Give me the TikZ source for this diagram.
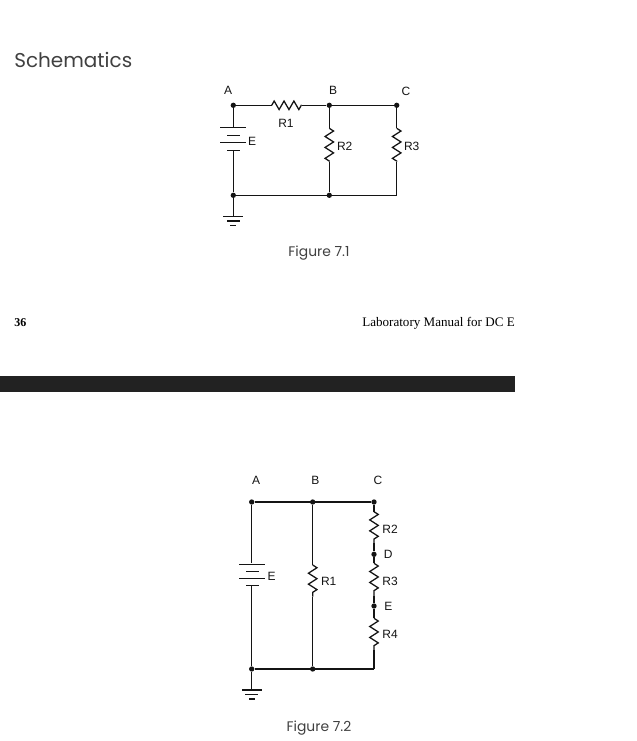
\documentclass[tikz,border=0pt]{standalone}
\usepackage{fontspec}
\setmainfont{Liberation Sans}
\newfontfamily\gothicfont{Poppins}
\newfontfamily\timesfont{Liberation Serif}
\usetikzlibrary{decorations.pathmorphing}
\definecolor{wirecol}{HTML}{141414}
\definecolor{barcol}{HTML}{222222}
\tikzset{
  dot/.style={circle,fill=wirecol,inner sep=0pt,minimum size=4pt},
  lab/.style={inner sep=0pt,font=\fontsize{9}{10}\selectfont,text=wirecol},
  figcap/.style={inner sep=0pt,font=\gothicfont\fontsize{10.4}{12}\selectfont,text=black!75},
  wire/.style={draw=wirecol,line width=.95pt},
  res/.style={wire,decorate,decoration={zigzag,amplitude=3.2pt,segment length=8.2pt}},
  resh/.style={wire,decorate,decoration={zigzag,amplitude=3.2pt,segment length=7.4pt}},
  longplate/.style={fill=wirecol,inner sep=0pt,minimum height=1pt,minimum width=19.5pt},
  shortplate/.style={fill=wirecol,inner sep=0pt,minimum height=1pt,minimum width=10pt},
  gnda/.style={fill=wirecol,inner sep=0pt,minimum height=1pt,minimum width=15pt},
  gndb/.style={fill=wirecol,inner sep=0pt,minimum height=1pt,minimum width=9.5pt},
  gndc/.style={fill=wirecol,inner sep=0pt,minimum height=1pt,minimum width=4.5pt}
}
\begin{document}
\begin{tikzpicture}[x=.75pt,y=-.75pt]
\useasboundingbox (0,0) rectangle (636,741);
% page furniture
\node[figcap,anchor=west,font=\gothicfont\fontsize{15}{18}\selectfont] (title) at (14,60) {Schematics};
\node[inner sep=0pt,anchor=west,font=\timesfont\bfseries\fontsize{9}{11}\selectfont] (page) at (14,322.5) {36};
\node[inner sep=0pt,anchor=east,font=\timesfont\fontsize{9.8}{11}\selectfont] (book) at (515,323) {Laboratory Manual for DC E};
\fill[barcol] (0,376) rectangle (515,392);

% figure 7.1
\node[dot] (a1) at (233.3,105.3) {};
\node[dot] (b1) at (329.3,105.3) {};
\node[dot] (c1) at (396.7,105.3) {};
\node[dot] (d1) at (233.3,195.3) {};
\node[dot] (e1) at (329.3,195.3) {};
\coordinate (f1) at (396.7,195.3);
\coordinate (r1a) at (271.7,105.3);
\coordinate (r1b) at (301.7,105.3);
\coordinate (r2a) at (329.3,128.3);
\coordinate (r2b) at (329.3,161.7);
\coordinate (r3a) at (396.7,128.3);
\coordinate (r3b) at (396.7,161.7);
\node[longplate] (p1) at (233.3,127.7) {};
\node[shortplate] (p2) at (233.8,135.7) {};
\node[longplate] (p3) at (233.3,142.7) {};
\node[shortplate] (p4) at (233.8,150.7) {};
\node[gnda] (g1) at (233.3,216.7) {};
\node[gndb] (g2) at (233.3,221) {};
\node[gndc] (g3) at (233.3,225.3) {};
\draw[wire] (a1) -- (r1a) (r1b) -- (b1) -- (c1) -- (r3a) (r3b) -- (f1) -- (d1);
\draw[wire] (b1) -- (r2a) (r2b) -- (e1);
\draw[wire] (a1) -- (p1) (d1 |- p4) -- (d1) -- (g1);
\draw[resh] (r1a) -- (r1b);
\draw[res] (r2a) -- (r2b);
\draw[res] (r3a) -- (r3b);
\node[lab] (la1) at (228,90) {A};
\node[lab] (lb1) at (333,90) {B};
\node[lab] (lc1) at (406,91) {C};
\node[lab] (lr1) at (286,123.3) {R1};
\node[lab] (lv1) at (252,141) {E};
\node[lab] (lr2) at (344.7,146) {R2};
\node[lab] (lr3) at (411.7,146) {R3};
\node[figcap] (fig1) at (319,253.5) {Figure 7.1};

% figure 7.2
\node[dot] (a2) at (251.7,502) {};
\node[dot] (b2) at (312.7,502) {};
\node[dot] (c2) at (374,502) {};
\node[dot] (d2) at (251.7,669) {};
\node[dot] (e2) at (312.7,669) {};
\coordinate (f2) at (374,669);
\node[dot] (m2) at (374,554.3) {};
\node[dot] (n2) at (374,606) {};
\coordinate (s1a) at (312.7,565);
\coordinate (s1b) at (312.7,596.7);
\coordinate (s2a) at (374,511.7);
\coordinate (s2b) at (374,543.3);
\coordinate (s3a) at (374,563.3);
\coordinate (s3b) at (374,596);
\coordinate (s4a) at (374,618.3);
\coordinate (s4b) at (374,650);
\node[longplate] (q1) at (251.7,564.3) {};
\node[shortplate] (q2) at (252.2,571.7) {};
\node[longplate] (q3) at (251.7,578.3) {};
\node[shortplate] (q4) at (252.2,585.7) {};
\node[gnda] (h1) at (251.7,690) {};
\node[gndb] (h2) at (251.7,694.5) {};
\node[gndc] (h3) at (251.7,699) {};
\draw[wire] (a2) -- (c2) (a2) -- (q1) (d2 |- q4) -- (d2) -- (h1) (d2) -- (f2);
\draw[wire] (b2) -- (s1a) (s1b) -- (e2);
\draw[wire] (c2) -- (s2a) (s2b) -- (m2) -- (s3a) (s3b) -- (n2) -- (s4a) (s4b) -- (f2);
\draw[res] (s1a) -- (s1b);
\draw[res] (s2a) -- (s2b);
\draw[res] (s3a) -- (s3b);
\draw[res] (s4a) -- (s4b);
\node[lab] (la2) at (256,480) {A};
\node[lab] (lb2) at (315.3,480) {B};
\node[lab] (lc2) at (378,480) {C};
\node[lab] (lv2) at (271.7,576.7) {E};
\node[lab] (ls1) at (328.7,581.7) {R1};
\node[lab] (ls2) at (390,529) {R2};
\node[lab] (ld2) at (388.3,554) {D};
\node[lab] (ls3) at (390,581.7) {R3};
\node[lab] (le2) at (388.3,606) {E};
\node[lab] (ls4) at (390,634) {R4};
\node[figcap] (fig2) at (319,728.5) {Figure 7.2};
\end{tikzpicture}
\end{document}
